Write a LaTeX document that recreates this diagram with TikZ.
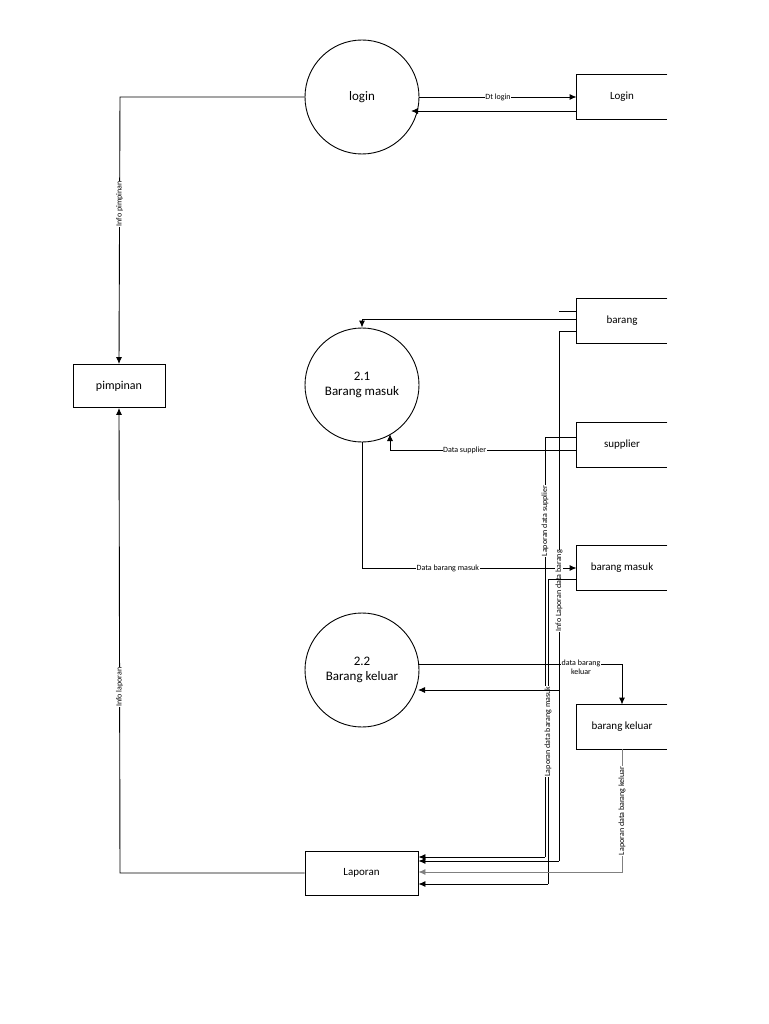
\documentclass[tikz,border=0pt]{standalone}
\usepackage{fontspec}
\setmainfont{Carlito}
\usetikzlibrary{arrows.meta}
\begin{document}
\begin{tikzpicture}[x=1pt,y=-1pt,line width=0.9pt,
 proc/.style={circle,draw,minimum size=114pt,inner sep=0pt,font=\fontsize{13}{15}\selectfont,align=center},
 ent/.style={draw,minimum width=92pt,minimum height=43pt,font=\fontsize{12}{14}\selectfont},
 store/.style={minimum width=90pt,minimum height=44pt,font=\fontsize{11}{13}\selectfont},
 lab/.style={font=\fontsize{8}{9}\selectfont,fill=white,inner sep=0.5pt},
 ar/.style={-{Latex[length=7pt,width=6pt]}}]
\useasboundingbox (0,0) rectangle (768,1024);
\node[proc] (login) at (362,97) {login};
\node[proc] (p21) at (362,385) {2.1\\Barang masuk};
\node[proc] (p22) at (362,670) {2.2\\Barang keluar};
\node[ent] (pim) at (119,386) {pimpinan};
\node[ent,minimum width=113pt,minimum height=44pt,font=\fontsize{11}{13}\selectfont] (lap) at (361.5,873) {Laporan};
% stores (open right side)
\foreach \n/\y/\t in {sLogin/97/Login,sBarang/321/barang,sSup/444.5/supplier,sBm/567.5/barang masuk,sBk/727/barang keluar}{
 \node[store] (\n) at (622,\y) {\t};
 \draw (\n.north east) -- (\n.north west) -- (\n.south west) -- (\n.south east);
}
% login
\draw[ar] (login.east |- 0,97) -- node[lab]{Dt login} (sLogin.west |- 0,97);
\draw[ar] (sLogin.west |- 0,111) -- (411,111);
\coordinate (c1) at (120,97);
\draw[ar] (login.west) -- (c1) -- node[lab,rotate=90,pos=0.4]{Info pimpinan} (pim.north);
\coordinate (c2) at (120,873);
\draw[ar] (lap.west) -- (c2) -- node[lab,rotate=90,pos=0.4]{Info laporan} (pim.south);
% barang -> 2.1
\coordinate (b1) at (362,319);
\draw[ar] (sBarang.west |- 0,319) -- (b1) -- (p21.north);
\draw (sBarang.west |- 0,311) -- (559,311);
% supplier data
\coordinate (s1) at (390,450);
\draw[ar] (sSup.west |- 0,450) -- node[lab,pos=0.6]{Data supplier} (s1) -- (390,434);
% data barang masuk
\coordinate (m1) at (362,568);
\draw[ar] (p21.south) -- (m1) -- node[lab,pos=0.4]{Data barang masuk} (sBm.west |- 0,568);
% verticals
\draw (sSup.west |- 0,437) -- (545,437) -- node[lab,rotate=90,pos=0.2]{Laporan data supplier} (545,857);
\draw[ar] (545,857) -- (lap.east |- 0,857);
\draw (sBarang.west |- 0,331) -- (559,331) -- node[lab,rotate=90,pos=0.49]{Info Laporan data barang} (559,861);
\draw[ar] (559,861) -- (lap.east |- 0,861);
\draw (sBm.west |- 0,579) -- (548,579) -- node[lab,rotate=90,pos=0.5]{Laporan data barang masuk} (548,884);
\draw[ar] (548,884) -- (lap.east |- 0,884);
% 2.2
\coordinate (k1) at (622,664);
\draw[ar] (418,664) -- (k1) -- (sBk.north);
\node[lab,align=center] (klab) at (581,667) {data barang\\keluar};
\draw[ar] (559,690) -- (418,690);
\coordinate (k2) at (622,872);
\draw[ar,gray] (sBk.south) -- node[lab,rotate=90,text=black]{Laporan data barang keluar} (k2) -- (lap.east |- 0,872);
\end{tikzpicture}
\end{document}
